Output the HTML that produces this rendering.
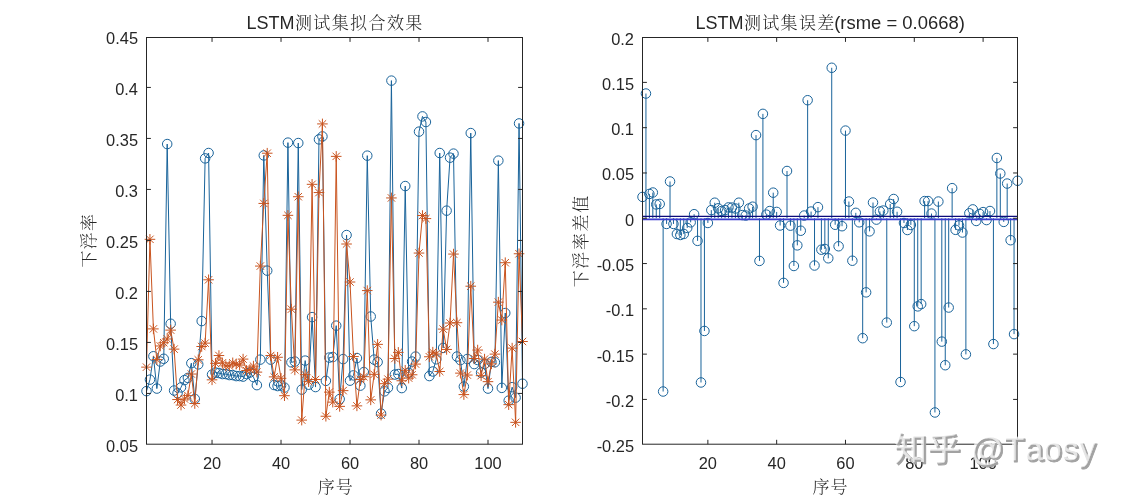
<!DOCTYPE html>
<html lang="zh"><head><meta charset="utf-8"><title>LSTM</title>
<style>html,body{margin:0;padding:0;background:#fff;overflow:hidden}svg{display:block}</style></head>
<body>
<svg width="1125" height="500" viewBox="0 0 1125 500">
<rect width="1125" height="500" fill="#fff"/>
<g fill="none" stroke-linejoin="round">
<polyline points="146.50,391.13 149.95,379.64 153.40,356.25 156.85,388.58 160.30,361.54 163.75,358.79 167.20,144.06 170.65,323.72 174.10,390.52 177.55,393.16 181.00,387.36 184.44,380.14 187.89,377.91 191.34,363.17 194.79,398.95 198.24,364.39 201.69,321.07 205.14,158.39 208.59,153.00 212.04,374.55 215.49,372.52 218.94,373.03 222.39,374.04 225.84,374.04 229.29,375.06 232.74,375.06 236.19,376.08 239.64,376.08 243.09,376.59 246.54,374.04 249.99,372.52 253.44,377.09 256.89,385.13 260.33,359.61 263.78,155.44 267.23,270.64 270.68,359.61 274.13,385.03 277.58,386.04 281.03,385.43 284.48,387.57 287.93,142.63 291.38,362.35 294.83,361.54 298.28,143.04 301.73,389.60 305.18,360.62 308.63,384.72 312.08,317.11 315.53,387.06 318.98,139.38 322.43,136.43 325.88,380.86 329.33,357.57 332.78,357.06 336.22,325.65 339.67,399.06 343.12,359.10 346.57,235.05 350.02,380.65 353.47,375.37 356.92,358.08 360.37,385.64 363.82,372.11 367.27,155.65 370.72,316.50 374.17,359.61 377.62,362.05 381.07,413.60 384.52,391.33 387.97,387.77 391.42,80.61 394.87,374.55 398.32,374.04 401.77,388.08 405.22,186.05 408.67,372.82 412.11,361.54 415.56,356.56 419.01,131.65 422.46,116.40 425.91,121.99 429.36,376.08 432.81,371.50 436.26,359.30 439.71,153.00 443.16,347.91 446.61,210.65 450.06,157.68 453.51,153.61 456.96,356.56 460.41,360.11 463.86,386.55 467.31,359.00 470.76,133.07 474.21,364.08 477.66,360.01 481.11,372.62 484.56,363.98 488.00,388.58 491.45,361.84 494.90,362.25 498.35,160.63 501.80,387.87 505.25,313.04 508.70,400.58 512.15,387.16 515.60,397.63 519.05,123.42 522.50,383.70" stroke="#19639A" stroke-width="1"/>
<circle cx="146.50" cy="391.13" r="4.75" stroke="#19639A" stroke-width="1"/>
<circle cx="149.95" cy="379.64" r="4.75" stroke="#19639A" stroke-width="1"/>
<circle cx="153.40" cy="356.25" r="4.75" stroke="#19639A" stroke-width="1"/>
<circle cx="156.85" cy="388.58" r="4.75" stroke="#19639A" stroke-width="1"/>
<circle cx="160.30" cy="361.54" r="4.75" stroke="#19639A" stroke-width="1"/>
<circle cx="163.75" cy="358.79" r="4.75" stroke="#19639A" stroke-width="1"/>
<circle cx="167.20" cy="144.06" r="4.75" stroke="#19639A" stroke-width="1"/>
<circle cx="170.65" cy="323.72" r="4.75" stroke="#19639A" stroke-width="1"/>
<circle cx="174.10" cy="390.52" r="4.75" stroke="#19639A" stroke-width="1"/>
<circle cx="177.55" cy="393.16" r="4.75" stroke="#19639A" stroke-width="1"/>
<circle cx="181.00" cy="387.36" r="4.75" stroke="#19639A" stroke-width="1"/>
<circle cx="184.44" cy="380.14" r="4.75" stroke="#19639A" stroke-width="1"/>
<circle cx="187.89" cy="377.91" r="4.75" stroke="#19639A" stroke-width="1"/>
<circle cx="191.34" cy="363.17" r="4.75" stroke="#19639A" stroke-width="1"/>
<circle cx="194.79" cy="398.95" r="4.75" stroke="#19639A" stroke-width="1"/>
<circle cx="198.24" cy="364.39" r="4.75" stroke="#19639A" stroke-width="1"/>
<circle cx="201.69" cy="321.07" r="4.75" stroke="#19639A" stroke-width="1"/>
<circle cx="205.14" cy="158.39" r="4.75" stroke="#19639A" stroke-width="1"/>
<circle cx="208.59" cy="153.00" r="4.75" stroke="#19639A" stroke-width="1"/>
<circle cx="212.04" cy="374.55" r="4.75" stroke="#19639A" stroke-width="1"/>
<circle cx="215.49" cy="372.52" r="4.75" stroke="#19639A" stroke-width="1"/>
<circle cx="218.94" cy="373.03" r="4.75" stroke="#19639A" stroke-width="1"/>
<circle cx="222.39" cy="374.04" r="4.75" stroke="#19639A" stroke-width="1"/>
<circle cx="225.84" cy="374.04" r="4.75" stroke="#19639A" stroke-width="1"/>
<circle cx="229.29" cy="375.06" r="4.75" stroke="#19639A" stroke-width="1"/>
<circle cx="232.74" cy="375.06" r="4.75" stroke="#19639A" stroke-width="1"/>
<circle cx="236.19" cy="376.08" r="4.75" stroke="#19639A" stroke-width="1"/>
<circle cx="239.64" cy="376.08" r="4.75" stroke="#19639A" stroke-width="1"/>
<circle cx="243.09" cy="376.59" r="4.75" stroke="#19639A" stroke-width="1"/>
<circle cx="246.54" cy="374.04" r="4.75" stroke="#19639A" stroke-width="1"/>
<circle cx="249.99" cy="372.52" r="4.75" stroke="#19639A" stroke-width="1"/>
<circle cx="253.44" cy="377.09" r="4.75" stroke="#19639A" stroke-width="1"/>
<circle cx="256.89" cy="385.13" r="4.75" stroke="#19639A" stroke-width="1"/>
<circle cx="260.33" cy="359.61" r="4.75" stroke="#19639A" stroke-width="1"/>
<circle cx="263.78" cy="155.44" r="4.75" stroke="#19639A" stroke-width="1"/>
<circle cx="267.23" cy="270.64" r="4.75" stroke="#19639A" stroke-width="1"/>
<circle cx="270.68" cy="359.61" r="4.75" stroke="#19639A" stroke-width="1"/>
<circle cx="274.13" cy="385.03" r="4.75" stroke="#19639A" stroke-width="1"/>
<circle cx="277.58" cy="386.04" r="4.75" stroke="#19639A" stroke-width="1"/>
<circle cx="281.03" cy="385.43" r="4.75" stroke="#19639A" stroke-width="1"/>
<circle cx="284.48" cy="387.57" r="4.75" stroke="#19639A" stroke-width="1"/>
<circle cx="287.93" cy="142.63" r="4.75" stroke="#19639A" stroke-width="1"/>
<circle cx="291.38" cy="362.35" r="4.75" stroke="#19639A" stroke-width="1"/>
<circle cx="294.83" cy="361.54" r="4.75" stroke="#19639A" stroke-width="1"/>
<circle cx="298.28" cy="143.04" r="4.75" stroke="#19639A" stroke-width="1"/>
<circle cx="301.73" cy="389.60" r="4.75" stroke="#19639A" stroke-width="1"/>
<circle cx="305.18" cy="360.62" r="4.75" stroke="#19639A" stroke-width="1"/>
<circle cx="308.63" cy="384.72" r="4.75" stroke="#19639A" stroke-width="1"/>
<circle cx="312.08" cy="317.11" r="4.75" stroke="#19639A" stroke-width="1"/>
<circle cx="315.53" cy="387.06" r="4.75" stroke="#19639A" stroke-width="1"/>
<circle cx="318.98" cy="139.38" r="4.75" stroke="#19639A" stroke-width="1"/>
<circle cx="322.43" cy="136.43" r="4.75" stroke="#19639A" stroke-width="1"/>
<circle cx="325.88" cy="380.86" r="4.75" stroke="#19639A" stroke-width="1"/>
<circle cx="329.33" cy="357.57" r="4.75" stroke="#19639A" stroke-width="1"/>
<circle cx="332.78" cy="357.06" r="4.75" stroke="#19639A" stroke-width="1"/>
<circle cx="336.22" cy="325.65" r="4.75" stroke="#19639A" stroke-width="1"/>
<circle cx="339.67" cy="399.06" r="4.75" stroke="#19639A" stroke-width="1"/>
<circle cx="343.12" cy="359.10" r="4.75" stroke="#19639A" stroke-width="1"/>
<circle cx="346.57" cy="235.05" r="4.75" stroke="#19639A" stroke-width="1"/>
<circle cx="350.02" cy="380.65" r="4.75" stroke="#19639A" stroke-width="1"/>
<circle cx="353.47" cy="375.37" r="4.75" stroke="#19639A" stroke-width="1"/>
<circle cx="356.92" cy="358.08" r="4.75" stroke="#19639A" stroke-width="1"/>
<circle cx="360.37" cy="385.64" r="4.75" stroke="#19639A" stroke-width="1"/>
<circle cx="363.82" cy="372.11" r="4.75" stroke="#19639A" stroke-width="1"/>
<circle cx="367.27" cy="155.65" r="4.75" stroke="#19639A" stroke-width="1"/>
<circle cx="370.72" cy="316.50" r="4.75" stroke="#19639A" stroke-width="1"/>
<circle cx="374.17" cy="359.61" r="4.75" stroke="#19639A" stroke-width="1"/>
<circle cx="377.62" cy="362.05" r="4.75" stroke="#19639A" stroke-width="1"/>
<circle cx="381.07" cy="413.60" r="4.75" stroke="#19639A" stroke-width="1"/>
<circle cx="384.52" cy="391.33" r="4.75" stroke="#19639A" stroke-width="1"/>
<circle cx="387.97" cy="387.77" r="4.75" stroke="#19639A" stroke-width="1"/>
<circle cx="391.42" cy="80.61" r="4.75" stroke="#19639A" stroke-width="1"/>
<circle cx="394.87" cy="374.55" r="4.75" stroke="#19639A" stroke-width="1"/>
<circle cx="398.32" cy="374.04" r="4.75" stroke="#19639A" stroke-width="1"/>
<circle cx="401.77" cy="388.08" r="4.75" stroke="#19639A" stroke-width="1"/>
<circle cx="405.22" cy="186.05" r="4.75" stroke="#19639A" stroke-width="1"/>
<circle cx="408.67" cy="372.82" r="4.75" stroke="#19639A" stroke-width="1"/>
<circle cx="412.11" cy="361.54" r="4.75" stroke="#19639A" stroke-width="1"/>
<circle cx="415.56" cy="356.56" r="4.75" stroke="#19639A" stroke-width="1"/>
<circle cx="419.01" cy="131.65" r="4.75" stroke="#19639A" stroke-width="1"/>
<circle cx="422.46" cy="116.40" r="4.75" stroke="#19639A" stroke-width="1"/>
<circle cx="425.91" cy="121.99" r="4.75" stroke="#19639A" stroke-width="1"/>
<circle cx="429.36" cy="376.08" r="4.75" stroke="#19639A" stroke-width="1"/>
<circle cx="432.81" cy="371.50" r="4.75" stroke="#19639A" stroke-width="1"/>
<circle cx="436.26" cy="359.30" r="4.75" stroke="#19639A" stroke-width="1"/>
<circle cx="439.71" cy="153.00" r="4.75" stroke="#19639A" stroke-width="1"/>
<circle cx="443.16" cy="347.91" r="4.75" stroke="#19639A" stroke-width="1"/>
<circle cx="446.61" cy="210.65" r="4.75" stroke="#19639A" stroke-width="1"/>
<circle cx="450.06" cy="157.68" r="4.75" stroke="#19639A" stroke-width="1"/>
<circle cx="453.51" cy="153.61" r="4.75" stroke="#19639A" stroke-width="1"/>
<circle cx="456.96" cy="356.56" r="4.75" stroke="#19639A" stroke-width="1"/>
<circle cx="460.41" cy="360.11" r="4.75" stroke="#19639A" stroke-width="1"/>
<circle cx="463.86" cy="386.55" r="4.75" stroke="#19639A" stroke-width="1"/>
<circle cx="467.31" cy="359.00" r="4.75" stroke="#19639A" stroke-width="1"/>
<circle cx="470.76" cy="133.07" r="4.75" stroke="#19639A" stroke-width="1"/>
<circle cx="474.21" cy="364.08" r="4.75" stroke="#19639A" stroke-width="1"/>
<circle cx="477.66" cy="360.01" r="4.75" stroke="#19639A" stroke-width="1"/>
<circle cx="481.11" cy="372.62" r="4.75" stroke="#19639A" stroke-width="1"/>
<circle cx="484.56" cy="363.98" r="4.75" stroke="#19639A" stroke-width="1"/>
<circle cx="488.00" cy="388.58" r="4.75" stroke="#19639A" stroke-width="1"/>
<circle cx="491.45" cy="361.84" r="4.75" stroke="#19639A" stroke-width="1"/>
<circle cx="494.90" cy="362.25" r="4.75" stroke="#19639A" stroke-width="1"/>
<circle cx="498.35" cy="160.63" r="4.75" stroke="#19639A" stroke-width="1"/>
<circle cx="501.80" cy="387.87" r="4.75" stroke="#19639A" stroke-width="1"/>
<circle cx="505.25" cy="313.04" r="4.75" stroke="#19639A" stroke-width="1"/>
<circle cx="508.70" cy="400.58" r="4.75" stroke="#19639A" stroke-width="1"/>
<circle cx="512.15" cy="387.16" r="4.75" stroke="#19639A" stroke-width="1"/>
<circle cx="515.60" cy="397.63" r="4.75" stroke="#19639A" stroke-width="1"/>
<circle cx="519.05" cy="123.42" r="4.75" stroke="#19639A" stroke-width="1"/>
<circle cx="522.50" cy="383.70" r="4.75" stroke="#19639A" stroke-width="1"/>
<polyline points="146.50,367.13 149.95,239.32 153.40,328.90 156.85,359.61 160.30,345.98 163.75,342.73 167.20,338.97 170.65,330.12 174.10,349.13 177.55,399.56 181.00,405.06 184.44,398.95 187.89,395.60 191.34,374.04 194.79,403.53 198.24,359.81 201.69,346.49 205.14,343.14 208.59,279.79 212.04,379.84 215.49,363.37 218.94,355.54 222.39,362.86 225.84,365.91 229.29,365.91 232.74,362.86 236.19,364.08 239.64,365.10 243.09,359.10 246.54,370.49 249.99,369.47 253.44,366.11 256.89,372.11 260.33,266.07 263.78,203.43 267.23,153.21 270.68,355.54 274.13,376.89 277.58,357.27 281.03,378.31 284.48,395.70 287.93,215.33 291.38,309.18 294.83,369.88 298.28,196.72 301.73,420.10 305.18,374.65 308.63,381.67 312.08,184.32 315.53,379.53 318.98,192.55 322.43,123.92 325.88,416.24 329.33,392.14 332.78,402.11 336.22,156.36 339.67,406.38 343.12,390.62 346.57,244.00 350.02,282.03 353.47,356.56 356.92,405.87 360.37,379.53 363.82,376.69 367.27,290.57 370.72,399.87 374.17,374.35 377.62,344.36 381.07,415.12 384.52,383.70 387.97,379.13 391.42,197.94 394.87,358.49 398.32,352.39 401.77,380.75 405.22,370.28 408.67,378.11 412.11,374.76 415.56,364.08 419.01,253.05 422.46,215.53 425.91,218.58 429.36,356.76 432.81,352.18 436.26,354.01 439.71,371.50 443.16,329.10 446.61,349.44 450.06,323.00 453.51,254.07 456.96,322.70 460.41,373.13 463.86,394.58 467.31,375.06 470.76,286.20 474.21,358.49 477.66,350.05 481.11,375.67 484.56,359.10 488.00,381.67 491.45,363.88 494.90,354.12 498.35,302.16 501.80,320.05 505.25,262.71 508.70,404.65 512.15,348.12 515.60,422.34 519.05,253.76 522.50,341.51" stroke="#C9541F" stroke-width="1"/>
<path d="M141.20 367.13H151.80M146.50 361.83V372.43M142.80 363.43L150.20 370.83M142.80 370.83L150.20 363.43M144.65 239.32H155.25M149.95 234.02V244.62M146.25 235.62L153.65 243.02M146.25 243.02L153.65 235.62M148.10 328.90H158.70M153.40 323.60V334.20M149.70 325.20L157.10 332.60M149.70 332.60L157.10 325.20M151.55 359.61H162.15M156.85 354.31V364.91M153.15 355.91L160.55 363.31M153.15 363.31L160.55 355.91M155.00 345.98H165.60M160.30 340.68V351.28M156.60 342.28L164.00 349.68M156.60 349.68L164.00 342.28M158.45 342.73H169.05M163.75 337.43V348.03M160.05 339.03L167.45 346.43M160.05 346.43L167.45 339.03M161.90 338.97H172.50M167.20 333.67V344.27M163.50 335.27L170.90 342.67M163.50 342.67L170.90 335.27M165.35 330.12H175.95M170.65 324.82V335.42M166.95 326.42L174.35 333.82M166.95 333.82L174.35 326.42M168.80 349.13H179.40M174.10 343.83V354.43M170.40 345.43L177.80 352.83M170.40 352.83L177.80 345.43M172.25 399.56H182.85M177.55 394.26V404.86M173.85 395.86L181.25 403.26M173.85 403.26L181.25 395.86M175.70 405.06H186.30M181.00 399.76V410.36M177.30 401.36L184.70 408.76M177.30 408.76L184.70 401.36M179.14 398.95H189.74M184.44 393.65V404.25M180.74 395.25L188.14 402.65M180.74 402.65L188.14 395.25M182.59 395.60H193.19M187.89 390.30V400.90M184.19 391.90L191.59 399.30M184.19 399.30L191.59 391.90M186.04 374.04H196.64M191.34 368.74V379.34M187.64 370.34L195.04 377.74M187.64 377.74L195.04 370.34M189.49 403.53H200.09M194.79 398.23V408.83M191.09 399.83L198.49 407.23M191.09 407.23L198.49 399.83M192.94 359.81H203.54M198.24 354.51V365.11M194.54 356.11L201.94 363.51M194.54 363.51L201.94 356.11M196.39 346.49H206.99M201.69 341.19V351.79M197.99 342.79L205.39 350.19M197.99 350.19L205.39 342.79M199.84 343.14H210.44M205.14 337.84V348.44M201.44 339.44L208.84 346.84M201.44 346.84L208.84 339.44M203.29 279.79H213.89M208.59 274.49V285.09M204.89 276.09L212.29 283.49M204.89 283.49L212.29 276.09M206.74 379.84H217.34M212.04 374.54V385.14M208.34 376.14L215.74 383.54M208.34 383.54L215.74 376.14M210.19 363.37H220.79M215.49 358.07V368.67M211.79 359.67L219.19 367.07M211.79 367.07L219.19 359.67M213.64 355.54H224.24M218.94 350.24V360.84M215.24 351.84L222.64 359.24M215.24 359.24L222.64 351.84M217.09 362.86H227.69M222.39 357.56V368.16M218.69 359.16L226.09 366.56M218.69 366.56L226.09 359.16M220.54 365.91H231.14M225.84 360.61V371.21M222.14 362.21L229.54 369.61M222.14 369.61L229.54 362.21M223.99 365.91H234.59M229.29 360.61V371.21M225.59 362.21L232.99 369.61M225.59 369.61L232.99 362.21M227.44 362.86H238.04M232.74 357.56V368.16M229.04 359.16L236.44 366.56M229.04 366.56L236.44 359.16M230.89 364.08H241.49M236.19 358.78V369.38M232.49 360.38L239.89 367.78M232.49 367.78L239.89 360.38M234.34 365.10H244.94M239.64 359.80V370.40M235.94 361.40L243.34 368.80M235.94 368.80L243.34 361.40M237.79 359.10H248.39M243.09 353.80V364.40M239.39 355.40L246.79 362.80M239.39 362.80L246.79 355.40M241.24 370.49H251.84M246.54 365.19V375.79M242.84 366.79L250.24 374.19M242.84 374.19L250.24 366.79M244.69 369.47H255.29M249.99 364.17V374.77M246.29 365.77L253.69 373.17M246.29 373.17L253.69 365.77M248.14 366.11H258.74M253.44 360.81V371.41M249.74 362.41L257.14 369.81M249.74 369.81L257.14 362.41M251.59 372.11H262.19M256.89 366.81V377.41M253.19 368.41L260.59 375.81M253.19 375.81L260.59 368.41M255.03 266.07H265.63M260.33 260.77V271.37M256.63 262.37L264.03 269.77M256.63 269.77L264.03 262.37M258.48 203.43H269.08M263.78 198.13V208.73M260.08 199.73L267.48 207.13M260.08 207.13L267.48 199.73M261.93 153.21H272.53M267.23 147.91V158.51M263.53 149.51L270.93 156.91M263.53 156.91L270.93 149.51M265.38 355.54H275.98M270.68 350.24V360.84M266.98 351.84L274.38 359.24M266.98 359.24L274.38 351.84M268.83 376.89H279.43M274.13 371.59V382.19M270.43 373.19L277.83 380.59M270.43 380.59L277.83 373.19M272.28 357.27H282.88M277.58 351.97V362.57M273.88 353.57L281.28 360.97M273.88 360.97L281.28 353.57M275.73 378.31H286.33M281.03 373.01V383.61M277.33 374.61L284.73 382.01M277.33 382.01L284.73 374.61M279.18 395.70H289.78M284.48 390.40V401.00M280.78 392.00L288.18 399.40M280.78 399.40L288.18 392.00M282.63 215.33H293.23M287.93 210.03V220.63M284.23 211.63L291.63 219.03M284.23 219.03L291.63 211.63M286.08 309.18H296.68M291.38 303.88V314.48M287.68 305.48L295.08 312.88M287.68 312.88L295.08 305.48M289.53 369.88H300.13M294.83 364.58V375.18M291.13 366.18L298.53 373.58M291.13 373.58L298.53 366.18M292.98 196.72H303.58M298.28 191.42V202.02M294.58 193.02L301.98 200.42M294.58 200.42L301.98 193.02M296.43 420.10H307.03M301.73 414.80V425.40M298.03 416.40L305.43 423.80M298.03 423.80L305.43 416.40M299.88 374.65H310.48M305.18 369.35V379.95M301.48 370.95L308.88 378.35M301.48 378.35L308.88 370.95M303.33 381.67H313.93M308.63 376.37V386.97M304.93 377.97L312.33 385.37M304.93 385.37L312.33 377.97M306.78 184.32H317.38M312.08 179.02V189.62M308.38 180.62L315.78 188.02M308.38 188.02L315.78 180.62M310.23 379.53H320.83M315.53 374.23V384.83M311.83 375.83L319.23 383.23M311.83 383.23L319.23 375.83M313.68 192.55H324.28M318.98 187.25V197.85M315.28 188.85L322.68 196.25M315.28 196.25L322.68 188.85M317.13 123.92H327.73M322.43 118.62V129.22M318.73 120.22L326.13 127.62M318.73 127.62L326.13 120.22M320.58 416.24H331.18M325.88 410.94V421.54M322.18 412.54L329.58 419.94M322.18 419.94L329.58 412.54M324.03 392.14H334.63M329.33 386.84V397.44M325.63 388.44L333.03 395.84M325.63 395.84L333.03 388.44M327.48 402.11H338.08M332.78 396.81V407.41M329.08 398.41L336.48 405.81M329.08 405.81L336.48 398.41M330.92 156.36H341.52M336.22 151.06V161.66M332.52 152.66L339.92 160.06M332.52 160.06L339.92 152.66M334.37 406.38H344.97M339.67 401.08V411.68M335.97 402.68L343.37 410.08M335.97 410.08L343.37 402.68M337.82 390.62H348.42M343.12 385.32V395.92M339.42 386.92L346.82 394.32M339.42 394.32L346.82 386.92M341.27 244.00H351.87M346.57 238.70V249.30M342.87 240.30L350.27 247.70M342.87 247.70L350.27 240.30M344.72 282.03H355.32M350.02 276.73V287.33M346.32 278.33L353.72 285.73M346.32 285.73L353.72 278.33M348.17 356.56H358.77M353.47 351.26V361.86M349.77 352.86L357.17 360.26M349.77 360.26L357.17 352.86M351.62 405.87H362.22M356.92 400.57V411.17M353.22 402.17L360.62 409.57M353.22 409.57L360.62 402.17M355.07 379.53H365.67M360.37 374.23V384.83M356.67 375.83L364.07 383.23M356.67 383.23L364.07 375.83M358.52 376.69H369.12M363.82 371.39V381.99M360.12 372.99L367.52 380.39M360.12 380.39L367.52 372.99M361.97 290.57H372.57M367.27 285.27V295.87M363.57 286.87L370.97 294.27M363.57 294.27L370.97 286.87M365.42 399.87H376.02M370.72 394.57V405.17M367.02 396.17L374.42 403.57M367.02 403.57L374.42 396.17M368.87 374.35H379.47M374.17 369.05V379.65M370.47 370.65L377.87 378.05M370.47 378.05L377.87 370.65M372.32 344.36H382.92M377.62 339.06V349.66M373.92 340.66L381.32 348.06M373.92 348.06L381.32 340.66M375.77 415.12H386.37M381.07 409.82V420.42M377.37 411.42L384.77 418.82M377.37 418.82L384.77 411.42M379.22 383.70H389.82M384.52 378.40V389.00M380.82 380.00L388.22 387.40M380.82 387.40L388.22 380.00M382.67 379.13H393.27M387.97 373.83V384.43M384.27 375.43L391.67 382.83M384.27 382.83L391.67 375.43M386.12 197.94H396.72M391.42 192.64V203.24M387.72 194.24L395.12 201.64M387.72 201.64L395.12 194.24M389.57 358.49H400.17M394.87 353.19V363.79M391.17 354.79L398.57 362.19M391.17 362.19L398.57 354.79M393.02 352.39H403.62M398.32 347.09V357.69M394.62 348.69L402.02 356.09M394.62 356.09L402.02 348.69M396.47 380.75H407.07M401.77 375.45V386.05M398.07 377.05L405.47 384.45M398.07 384.45L405.47 377.05M399.92 370.28H410.52M405.22 364.98V375.58M401.52 366.58L408.92 373.98M401.52 373.98L408.92 366.58M403.37 378.11H413.97M408.67 372.81V383.41M404.97 374.41L412.37 381.81M404.97 381.81L412.37 374.41M406.81 374.76H417.41M412.11 369.46V380.06M408.41 371.06L415.81 378.46M408.41 378.46L415.81 371.06M410.26 364.08H420.86M415.56 358.78V369.38M411.86 360.38L419.26 367.78M411.86 367.78L419.26 360.38M413.71 253.05H424.31M419.01 247.75V258.35M415.31 249.35L422.71 256.75M415.31 256.75L422.71 249.35M417.16 215.53H427.76M422.46 210.23V220.83M418.76 211.83L426.16 219.23M418.76 219.23L426.16 211.83M420.61 218.58H431.21M425.91 213.28V223.88M422.21 214.88L429.61 222.28M422.21 222.28L429.61 214.88M424.06 356.76H434.66M429.36 351.46V362.06M425.66 353.06L433.06 360.46M425.66 360.46L433.06 353.06M427.51 352.18H438.11M432.81 346.88V357.48M429.11 348.48L436.51 355.88M429.11 355.88L436.51 348.48M430.96 354.01H441.56M436.26 348.71V359.31M432.56 350.31L439.96 357.71M432.56 357.71L439.96 350.31M434.41 371.50H445.01M439.71 366.20V376.80M436.01 367.80L443.41 375.20M436.01 375.20L443.41 367.80M437.86 329.10H448.46M443.16 323.80V334.40M439.46 325.40L446.86 332.80M439.46 332.80L446.86 325.40M441.31 349.44H451.91M446.61 344.14V354.74M442.91 345.74L450.31 353.14M442.91 353.14L450.31 345.74M444.76 323.00H455.36M450.06 317.70V328.30M446.36 319.30L453.76 326.70M446.36 326.70L453.76 319.30M448.21 254.07H458.81M453.51 248.77V259.37M449.81 250.37L457.21 257.77M449.81 257.77L457.21 250.37M451.66 322.70H462.26M456.96 317.40V328.00M453.26 319.00L460.66 326.40M453.26 326.40L460.66 319.00M455.11 373.13H465.71M460.41 367.83V378.43M456.71 369.43L464.11 376.83M456.71 376.83L464.11 369.43M458.56 394.58H469.16M463.86 389.28V399.88M460.16 390.88L467.56 398.28M460.16 398.28L467.56 390.88M462.01 375.06H472.61M467.31 369.76V380.36M463.61 371.36L471.01 378.76M463.61 378.76L471.01 371.36M465.46 286.20H476.06M470.76 280.90V291.50M467.06 282.50L474.46 289.90M467.06 289.90L474.46 282.50M468.91 358.49H479.51M474.21 353.19V363.79M470.51 354.79L477.91 362.19M470.51 362.19L477.91 354.79M472.36 350.05H482.96M477.66 344.75V355.35M473.96 346.35L481.36 353.75M473.96 353.75L481.36 346.35M475.81 375.67H486.41M481.11 370.37V380.97M477.41 371.97L484.81 379.37M477.41 379.37L484.81 371.97M479.26 359.10H489.86M484.56 353.80V364.40M480.86 355.40L488.26 362.80M480.86 362.80L488.26 355.40M482.70 381.67H493.30M488.00 376.37V386.97M484.30 377.97L491.70 385.37M484.30 385.37L491.70 377.97M486.15 363.88H496.75M491.45 358.58V369.18M487.75 360.18L495.15 367.58M487.75 367.58L495.15 360.18M489.60 354.12H500.20M494.90 348.82V359.42M491.20 350.42L498.60 357.82M491.20 357.82L498.60 350.42M493.05 302.16H503.65M498.35 296.86V307.46M494.65 298.46L502.05 305.86M494.65 305.86L502.05 298.46M496.50 320.05H507.10M501.80 314.75V325.35M498.10 316.35L505.50 323.75M498.10 323.75L505.50 316.35M499.95 262.71H510.55M505.25 257.41V268.01M501.55 259.01L508.95 266.41M501.55 266.41L508.95 259.01M503.40 404.65H514.00M508.70 399.35V409.95M505.00 400.95L512.40 408.35M505.00 408.35L512.40 400.95M506.85 348.12H517.45M512.15 342.82V353.42M508.45 344.42L515.85 351.82M508.45 351.82L515.85 344.42M510.30 422.34H520.90M515.60 417.04V427.64M511.90 418.64L519.30 426.04M511.90 426.04L519.30 418.64M513.75 253.76H524.35M519.05 248.46V259.06M515.35 250.06L522.75 257.46M515.35 257.46L522.75 250.06M517.20 341.51H527.80M522.50 336.21V346.81M518.80 337.81L526.20 345.21M518.80 345.21L526.20 337.81" stroke="#C9541F" stroke-width="1"/>
</g>
<g fill="none">
<path d="M642.50 218.26V196.93M645.94 218.26V93.53M649.38 218.26V193.94M652.82 218.26V192.50M656.26 218.26V204.43M659.70 218.26V203.98M663.14 218.26V391.51M666.58 218.26V223.95M670.02 218.26V181.47M673.46 218.26V223.95M676.90 218.26V233.98M680.34 218.26V234.98M683.78 218.26V233.98M687.22 218.26V227.93M690.67 218.26V222.32M694.11 218.26V214.19M697.55 218.26V240.85M700.99 218.26V382.47M704.43 218.26V330.96M707.87 218.26V222.96M711.31 218.26V210.12M714.75 218.26V202.71M718.19 218.26V208.31M721.63 218.26V211.03M725.07 218.26V210.12M728.51 218.26V207.41M731.95 218.26V207.59M735.39 218.26V208.49M738.83 218.26V202.71M742.27 218.26V215.09M745.71 218.26V215.54M749.15 218.26V208.49M752.59 218.26V206.69M756.03 218.26V135.11M759.47 218.26V260.91M762.91 218.26V113.87M766.35 218.26V214.64M769.79 218.26V211.03M773.23 218.26V192.68M776.67 218.26V211.93M780.11 218.26V225.49M783.56 218.26V282.88M787.00 218.26V170.99M790.44 218.26V225.67M793.88 218.26V265.98M797.32 218.26V245.37M800.76 218.26V230.73M804.20 218.26V215.54M807.64 218.26V100.22M811.08 218.26V211.57M814.52 218.26V265.52M817.96 218.26V207.14M821.40 218.26V249.71M824.84 218.26V248.98M828.28 218.26V258.29M831.72 218.26V67.78M835.16 218.26V224.76M838.60 218.26V246.27M842.04 218.26V226.21M845.48 218.26V130.59M848.92 218.26V201.54M852.36 218.26V260.73M855.80 218.26V212.83M859.24 218.26V222.32M862.68 218.26V338.19M866.12 218.26V292.37M869.56 218.26V231.36M873.00 218.26V202.53M876.44 218.26V219.61M879.89 218.26V211.48M883.33 218.26V210.57M886.77 218.26V322.55M890.21 218.26V203.98M893.65 218.26V199.01M897.09 218.26V211.75M900.53 218.26V382.02M903.97 218.26V222.96M907.41 218.26V230.00M910.85 218.26V224.94M914.29 218.26V326.17M917.73 218.26V306.37M921.17 218.26V304.11M924.61 218.26V201.08M928.05 218.26V201.08M931.49 218.26V213.56M934.93 218.26V412.48M938.37 218.26V201.54M941.81 218.26V341.62M945.25 218.26V365.21M948.69 218.26V307.55M952.13 218.26V188.16M955.57 218.26V229.82M959.01 218.26V225.40M962.45 218.26V232.54M965.89 218.26V354.36M969.33 218.26V213.28M972.78 218.26V209.40M976.22 218.26V220.97M979.66 218.26V213.92M983.10 218.26V212.11M986.54 218.26V220.06M989.98 218.26V211.03M993.42 218.26V344.06M996.86 218.26V157.97M1000.30 218.26V173.52M1003.74 218.26V221.87M1007.18 218.26V183.55M1010.62 218.26V240.22M1014.06 218.26V334.12M1017.50 218.26V180.75" stroke="#19639A" stroke-width="1"/>
<circle cx="642.50" cy="196.93" r="4.75" stroke="#19639A" stroke-width="1"/>
<circle cx="645.94" cy="93.53" r="4.75" stroke="#19639A" stroke-width="1"/>
<circle cx="649.38" cy="193.94" r="4.75" stroke="#19639A" stroke-width="1"/>
<circle cx="652.82" cy="192.50" r="4.75" stroke="#19639A" stroke-width="1"/>
<circle cx="656.26" cy="204.43" r="4.75" stroke="#19639A" stroke-width="1"/>
<circle cx="659.70" cy="203.98" r="4.75" stroke="#19639A" stroke-width="1"/>
<circle cx="663.14" cy="391.51" r="4.75" stroke="#19639A" stroke-width="1"/>
<circle cx="666.58" cy="223.95" r="4.75" stroke="#19639A" stroke-width="1"/>
<circle cx="670.02" cy="181.47" r="4.75" stroke="#19639A" stroke-width="1"/>
<circle cx="673.46" cy="223.95" r="4.75" stroke="#19639A" stroke-width="1"/>
<circle cx="676.90" cy="233.98" r="4.75" stroke="#19639A" stroke-width="1"/>
<circle cx="680.34" cy="234.98" r="4.75" stroke="#19639A" stroke-width="1"/>
<circle cx="683.78" cy="233.98" r="4.75" stroke="#19639A" stroke-width="1"/>
<circle cx="687.22" cy="227.93" r="4.75" stroke="#19639A" stroke-width="1"/>
<circle cx="690.67" cy="222.32" r="4.75" stroke="#19639A" stroke-width="1"/>
<circle cx="694.11" cy="214.19" r="4.75" stroke="#19639A" stroke-width="1"/>
<circle cx="697.55" cy="240.85" r="4.75" stroke="#19639A" stroke-width="1"/>
<circle cx="700.99" cy="382.47" r="4.75" stroke="#19639A" stroke-width="1"/>
<circle cx="704.43" cy="330.96" r="4.75" stroke="#19639A" stroke-width="1"/>
<circle cx="707.87" cy="222.96" r="4.75" stroke="#19639A" stroke-width="1"/>
<circle cx="711.31" cy="210.12" r="4.75" stroke="#19639A" stroke-width="1"/>
<circle cx="714.75" cy="202.71" r="4.75" stroke="#19639A" stroke-width="1"/>
<circle cx="718.19" cy="208.31" r="4.75" stroke="#19639A" stroke-width="1"/>
<circle cx="721.63" cy="211.03" r="4.75" stroke="#19639A" stroke-width="1"/>
<circle cx="725.07" cy="210.12" r="4.75" stroke="#19639A" stroke-width="1"/>
<circle cx="728.51" cy="207.41" r="4.75" stroke="#19639A" stroke-width="1"/>
<circle cx="731.95" cy="207.59" r="4.75" stroke="#19639A" stroke-width="1"/>
<circle cx="735.39" cy="208.49" r="4.75" stroke="#19639A" stroke-width="1"/>
<circle cx="738.83" cy="202.71" r="4.75" stroke="#19639A" stroke-width="1"/>
<circle cx="742.27" cy="215.09" r="4.75" stroke="#19639A" stroke-width="1"/>
<circle cx="745.71" cy="215.54" r="4.75" stroke="#19639A" stroke-width="1"/>
<circle cx="749.15" cy="208.49" r="4.75" stroke="#19639A" stroke-width="1"/>
<circle cx="752.59" cy="206.69" r="4.75" stroke="#19639A" stroke-width="1"/>
<circle cx="756.03" cy="135.11" r="4.75" stroke="#19639A" stroke-width="1"/>
<circle cx="759.47" cy="260.91" r="4.75" stroke="#19639A" stroke-width="1"/>
<circle cx="762.91" cy="113.87" r="4.75" stroke="#19639A" stroke-width="1"/>
<circle cx="766.35" cy="214.64" r="4.75" stroke="#19639A" stroke-width="1"/>
<circle cx="769.79" cy="211.03" r="4.75" stroke="#19639A" stroke-width="1"/>
<circle cx="773.23" cy="192.68" r="4.75" stroke="#19639A" stroke-width="1"/>
<circle cx="776.67" cy="211.93" r="4.75" stroke="#19639A" stroke-width="1"/>
<circle cx="780.11" cy="225.49" r="4.75" stroke="#19639A" stroke-width="1"/>
<circle cx="783.56" cy="282.88" r="4.75" stroke="#19639A" stroke-width="1"/>
<circle cx="787.00" cy="170.99" r="4.75" stroke="#19639A" stroke-width="1"/>
<circle cx="790.44" cy="225.67" r="4.75" stroke="#19639A" stroke-width="1"/>
<circle cx="793.88" cy="265.98" r="4.75" stroke="#19639A" stroke-width="1"/>
<circle cx="797.32" cy="245.37" r="4.75" stroke="#19639A" stroke-width="1"/>
<circle cx="800.76" cy="230.73" r="4.75" stroke="#19639A" stroke-width="1"/>
<circle cx="804.20" cy="215.54" r="4.75" stroke="#19639A" stroke-width="1"/>
<circle cx="807.64" cy="100.22" r="4.75" stroke="#19639A" stroke-width="1"/>
<circle cx="811.08" cy="211.57" r="4.75" stroke="#19639A" stroke-width="1"/>
<circle cx="814.52" cy="265.52" r="4.75" stroke="#19639A" stroke-width="1"/>
<circle cx="817.96" cy="207.14" r="4.75" stroke="#19639A" stroke-width="1"/>
<circle cx="821.40" cy="249.71" r="4.75" stroke="#19639A" stroke-width="1"/>
<circle cx="824.84" cy="248.98" r="4.75" stroke="#19639A" stroke-width="1"/>
<circle cx="828.28" cy="258.29" r="4.75" stroke="#19639A" stroke-width="1"/>
<circle cx="831.72" cy="67.78" r="4.75" stroke="#19639A" stroke-width="1"/>
<circle cx="835.16" cy="224.76" r="4.75" stroke="#19639A" stroke-width="1"/>
<circle cx="838.60" cy="246.27" r="4.75" stroke="#19639A" stroke-width="1"/>
<circle cx="842.04" cy="226.21" r="4.75" stroke="#19639A" stroke-width="1"/>
<circle cx="845.48" cy="130.59" r="4.75" stroke="#19639A" stroke-width="1"/>
<circle cx="848.92" cy="201.54" r="4.75" stroke="#19639A" stroke-width="1"/>
<circle cx="852.36" cy="260.73" r="4.75" stroke="#19639A" stroke-width="1"/>
<circle cx="855.80" cy="212.83" r="4.75" stroke="#19639A" stroke-width="1"/>
<circle cx="859.24" cy="222.32" r="4.75" stroke="#19639A" stroke-width="1"/>
<circle cx="862.68" cy="338.19" r="4.75" stroke="#19639A" stroke-width="1"/>
<circle cx="866.12" cy="292.37" r="4.75" stroke="#19639A" stroke-width="1"/>
<circle cx="869.56" cy="231.36" r="4.75" stroke="#19639A" stroke-width="1"/>
<circle cx="873.00" cy="202.53" r="4.75" stroke="#19639A" stroke-width="1"/>
<circle cx="876.44" cy="219.61" r="4.75" stroke="#19639A" stroke-width="1"/>
<circle cx="879.89" cy="211.48" r="4.75" stroke="#19639A" stroke-width="1"/>
<circle cx="883.33" cy="210.57" r="4.75" stroke="#19639A" stroke-width="1"/>
<circle cx="886.77" cy="322.55" r="4.75" stroke="#19639A" stroke-width="1"/>
<circle cx="890.21" cy="203.98" r="4.75" stroke="#19639A" stroke-width="1"/>
<circle cx="893.65" cy="199.01" r="4.75" stroke="#19639A" stroke-width="1"/>
<circle cx="897.09" cy="211.75" r="4.75" stroke="#19639A" stroke-width="1"/>
<circle cx="900.53" cy="382.02" r="4.75" stroke="#19639A" stroke-width="1"/>
<circle cx="903.97" cy="222.96" r="4.75" stroke="#19639A" stroke-width="1"/>
<circle cx="907.41" cy="230.00" r="4.75" stroke="#19639A" stroke-width="1"/>
<circle cx="910.85" cy="224.94" r="4.75" stroke="#19639A" stroke-width="1"/>
<circle cx="914.29" cy="326.17" r="4.75" stroke="#19639A" stroke-width="1"/>
<circle cx="917.73" cy="306.37" r="4.75" stroke="#19639A" stroke-width="1"/>
<circle cx="921.17" cy="304.11" r="4.75" stroke="#19639A" stroke-width="1"/>
<circle cx="924.61" cy="201.08" r="4.75" stroke="#19639A" stroke-width="1"/>
<circle cx="928.05" cy="201.08" r="4.75" stroke="#19639A" stroke-width="1"/>
<circle cx="931.49" cy="213.56" r="4.75" stroke="#19639A" stroke-width="1"/>
<circle cx="934.93" cy="412.48" r="4.75" stroke="#19639A" stroke-width="1"/>
<circle cx="938.37" cy="201.54" r="4.75" stroke="#19639A" stroke-width="1"/>
<circle cx="941.81" cy="341.62" r="4.75" stroke="#19639A" stroke-width="1"/>
<circle cx="945.25" cy="365.21" r="4.75" stroke="#19639A" stroke-width="1"/>
<circle cx="948.69" cy="307.55" r="4.75" stroke="#19639A" stroke-width="1"/>
<circle cx="952.13" cy="188.16" r="4.75" stroke="#19639A" stroke-width="1"/>
<circle cx="955.57" cy="229.82" r="4.75" stroke="#19639A" stroke-width="1"/>
<circle cx="959.01" cy="225.40" r="4.75" stroke="#19639A" stroke-width="1"/>
<circle cx="962.45" cy="232.54" r="4.75" stroke="#19639A" stroke-width="1"/>
<circle cx="965.89" cy="354.36" r="4.75" stroke="#19639A" stroke-width="1"/>
<circle cx="969.33" cy="213.28" r="4.75" stroke="#19639A" stroke-width="1"/>
<circle cx="972.78" cy="209.40" r="4.75" stroke="#19639A" stroke-width="1"/>
<circle cx="976.22" cy="220.97" r="4.75" stroke="#19639A" stroke-width="1"/>
<circle cx="979.66" cy="213.92" r="4.75" stroke="#19639A" stroke-width="1"/>
<circle cx="983.10" cy="212.11" r="4.75" stroke="#19639A" stroke-width="1"/>
<circle cx="986.54" cy="220.06" r="4.75" stroke="#19639A" stroke-width="1"/>
<circle cx="989.98" cy="211.03" r="4.75" stroke="#19639A" stroke-width="1"/>
<circle cx="993.42" cy="344.06" r="4.75" stroke="#19639A" stroke-width="1"/>
<circle cx="996.86" cy="157.97" r="4.75" stroke="#19639A" stroke-width="1"/>
<circle cx="1000.30" cy="173.52" r="4.75" stroke="#19639A" stroke-width="1"/>
<circle cx="1003.74" cy="221.87" r="4.75" stroke="#19639A" stroke-width="1"/>
<circle cx="1007.18" cy="183.55" r="4.75" stroke="#19639A" stroke-width="1"/>
<circle cx="1010.62" cy="240.22" r="4.75" stroke="#19639A" stroke-width="1"/>
<circle cx="1014.06" cy="334.12" r="4.75" stroke="#19639A" stroke-width="1"/>
<circle cx="1017.50" cy="180.75" r="4.75" stroke="#19639A" stroke-width="1"/>
<path d="M642.5 216.3H1017.5" stroke="#0b0b7a" stroke-width="1.2"/>
<path d="M642.5 219.3H1017.5" stroke="#3b3bd0" stroke-width="1.7"/>
</g>
<g stroke="#262626" stroke-width="1" fill="none">
<rect x="146.5" y="37.5" width="376.0" height="406.7"/>
<path d="M212.04 444.2v-4.4M212.04 37.5v4.4M281.03 444.2v-4.4M281.03 37.5v4.4M350.02 444.2v-4.4M350.02 37.5v4.4M419.01 444.2v-4.4M419.01 37.5v4.4M488.00 444.2v-4.4M488.00 37.5v4.4M146.5 393.43h4.4M522.5 393.43h-4.4M146.5 342.43h4.4M522.5 342.43h-4.4M146.5 291.43h4.4M522.5 291.43h-4.4M146.5 240.43h4.4M522.5 240.43h-4.4M146.5 189.43h4.4M522.5 189.43h-4.4M146.5 138.43h4.4M522.5 138.43h-4.4M146.5 87.43h4.4M522.5 87.43h-4.4"/>
</g>
<g stroke="#262626" stroke-width="1" fill="none">
<rect x="642.5" y="37.5" width="375.0" height="406.7"/>
<path d="M707.87 444.2v-4.4M707.87 37.5v4.4M776.67 444.2v-4.4M776.67 37.5v4.4M845.48 444.2v-4.4M845.48 37.5v4.4M914.29 444.2v-4.4M914.29 37.5v4.4M983.10 444.2v-4.4M983.10 37.5v4.4M642.5 82.39h4.4M1017.5 82.39h-4.4M642.5 127.68h4.4M1017.5 127.68h-4.4M642.5 172.97h4.4M1017.5 172.97h-4.4M642.5 218.26h4.4M1017.5 218.26h-4.4M642.5 263.55h4.4M1017.5 263.55h-4.4M642.5 308.84h4.4M1017.5 308.84h-4.4M642.5 354.13h4.4M1017.5 354.13h-4.4M642.5 399.42h4.4M1017.5 399.42h-4.4"/>
</g>
<g font-family="Liberation Sans, Arial, sans-serif" font-size="16.4" fill="#262626">
<text x="212.04" y="469" text-anchor="middle">20</text>
<text x="707.87" y="469" text-anchor="middle">20</text>
<text x="281.03" y="469" text-anchor="middle">40</text>
<text x="776.67" y="469" text-anchor="middle">40</text>
<text x="350.02" y="469" text-anchor="middle">60</text>
<text x="845.48" y="469" text-anchor="middle">60</text>
<text x="419.01" y="469" text-anchor="middle">80</text>
<text x="914.29" y="469" text-anchor="middle">80</text>
<text x="488.00" y="469" text-anchor="middle">100</text>
<text x="983.10" y="469" text-anchor="middle">100</text>
<text x="138" y="451.83" text-anchor="end">0.05</text>
<text x="138" y="400.83" text-anchor="end">0.1</text>
<text x="138" y="349.83" text-anchor="end">0.15</text>
<text x="138" y="298.83" text-anchor="end">0.2</text>
<text x="138" y="247.83" text-anchor="end">0.25</text>
<text x="138" y="196.83" text-anchor="end">0.3</text>
<text x="138" y="145.83" text-anchor="end">0.35</text>
<text x="138" y="94.83" text-anchor="end">0.4</text>
<text x="138" y="43.83" text-anchor="end">0.45</text>
<text x="634" y="44.60" text-anchor="end">0.2</text>
<text x="634" y="89.89" text-anchor="end">0.15</text>
<text x="634" y="135.18" text-anchor="end">0.1</text>
<text x="634" y="180.47" text-anchor="end">0.05</text>
<text x="634" y="225.76" text-anchor="end">0</text>
<text x="634" y="271.05" text-anchor="end">-0.05</text>
<text x="634" y="316.34" text-anchor="end">-0.1</text>
<text x="634" y="361.63" text-anchor="end">-0.15</text>
<text x="634" y="406.92" text-anchor="end">-0.2</text>
<text x="634" y="452.21" text-anchor="end">-0.25</text>
</g>
<g fill="#262626">
<text y="29.3" font-size="18" font-family="Liberation Sans, Noto Serif CJK SC, serif"><tspan x="246.4" textLength="48" lengthAdjust="spacingAndGlyphs">LSTM</tspan><tspan x="294.9" font-size="17" font-weight="300" textLength="127.4" lengthAdjust="spacing">测试集拟合效果</tspan></text>
<text y="29.3" font-size="18" font-family="Liberation Sans, Noto Serif CJK SC, serif"><tspan x="695.5" textLength="48" lengthAdjust="spacingAndGlyphs">LSTM</tspan><tspan x="744" font-size="17" font-weight="300" textLength="90.2" lengthAdjust="spacing">测试集误差</tspan><tspan x="834.2" textLength="130.6" lengthAdjust="spacingAndGlyphs">(rsme = 0.0668)</tspan></text>
<text x="335.2" y="493" font-size="17" font-weight="300" font-family="Liberation Sans, Noto Serif CJK SC, serif" text-anchor="middle" textLength="35" lengthAdjust="spacing">序号</text>
<text x="830" y="493" font-size="17" font-weight="300" font-family="Liberation Sans, Noto Serif CJK SC, serif" text-anchor="middle" textLength="35" lengthAdjust="spacing">序号</text>
<text transform="translate(94.6 240.8) rotate(-90)" font-size="17" font-weight="300" font-family="Liberation Sans, Noto Serif CJK SC, serif" text-anchor="middle" textLength="53.5" lengthAdjust="spacing">下浮率</text>
<text transform="translate(587.2 241.6) rotate(-90)" font-size="17" font-weight="300" font-family="Liberation Sans, Noto Serif CJK SC, serif" text-anchor="middle" textLength="91.5" lengthAdjust="spacing">下浮率差值</text>
</g>
<defs><filter id="wb" x="-5%" y="-20%" width="110%" height="140%"><feGaussianBlur stdDeviation="0.55"/></filter></defs>
<g font-family="Liberation Sans, Noto Sans CJK SC, sans-serif" font-size="33" stroke-linejoin="round" style="font-kerning:none">
<text x="895.7" y="462.0" fill="#a2a2a2" stroke="#a2a2a2" stroke-width="0.9" filter="url(#wb)" textLength="201.5" lengthAdjust="spacing">知乎 @Taosy</text>
<g opacity="0.72"><text x="893.7" y="460.0" fill="#ffffff" stroke="#ffffff" stroke-width="0.5" textLength="201.5" lengthAdjust="spacing">知乎 @Taosy</text></g>
</g>
</svg>
</body></html>
